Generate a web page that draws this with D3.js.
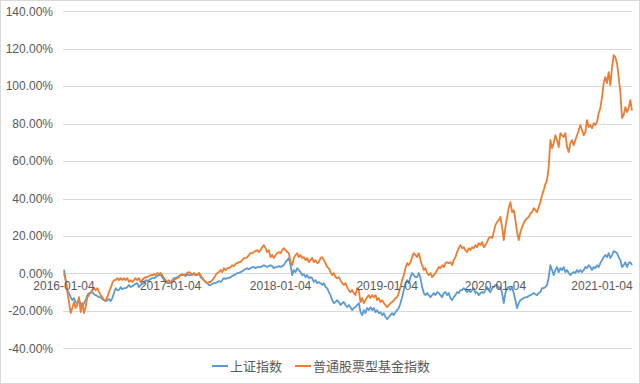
<!DOCTYPE html>
<html>
<head>
<meta charset="utf-8">
<script src="https://cdn.jsdelivr.net/npm/d3@7/dist/d3.min.js"></script>
<style>
  html, body { margin: 0; padding: 0; background: #fff; }
  svg { display: block; }
  text { font-family: "Liberation Sans", Arial, "Noto Sans CJK SC", sans-serif; fill: #595959; }
</style>
</head>
<body>
<script>
// ---- data (cumulative return, %) ----
const seriesNames = ["上证指数", "普通股票型基金指数"];
const seriesColors = ["#5B9BD5", "#ED7D31"];

const shIndex = [
  2.0,-3.6,-8.9,-10.5,-12.7,-14.3,-13.2,-15.3,-15.9,-14.3,-15.9,-18.0,-15.9,-14.3,-11.6,-10.5,-10.5,-10.0,-11.1,-11.6,-12.1,-12.7,-12.7,-13.7,-14.3,-14.8,-14.3,-13.7,-14.8,-13.2,-10.5,-7.9,-8.9,-8.9,-7.3,-8.4,-7.9,-7.9,-7.3,-6.2,-7.3,-6.8,-6.2,-5.7,-5.2,-7.3,-6.2,-5.7,-5.2,-3.6,-4.1,-3.6,-3.0,-2.5,-2.5,-2.0,-1.4,-0.9,
  -0.9,-2.0,-3.6,-4.1,-5.2,-5.2,-4.6,-3.6,-2.5,-2.5,
  -2.0,-1.4,-0.9,-0.9,-0.9,-1.4,-0.4,-0.9,-0.9,-0.4,
  -0.4,-0.9,-0.9,0.2,-2.0,-2.5,-3.6,-4.6,-5.2,-6.2,
  -6.2,-5.7,-5.2,-5.2,-4.6,-4.1,-4.6,-3.6,-2.5,-3.0,
  -2.5,-2.5,-2.0,-1.4,-0.9,-0.4,0.2,0.2,0.7,1.2,
  1.8,2.3,2.8,2.3,2.8,3.4,3.4,2.8,3.4,3.4,
  3.4,3.9,4.4,3.9,3.4,3.9,4.4,3.9,2.8,3.4,
  3.4,3.9,3.4,3.9,4.4,6.0,7.1,8.2,4.4,-0.9,
  1.8,0.7,2.8,1.8,0.7,-0.9,-0.4,-2.0,-0.9,-2.5,
  -2.0,-2.5,-4.6,-3.6,-5.2,-4.6,-5.2,-6.2,-5.2,-7.3,
  -7.9,-10.0,-11.6,-14.3,-15.9,-15.3,-14.3,-15.3,-16.9,-15.9,
  -15.3,-16.9,-18.0,-16.9,-18.0,-19.6,-18.5,-18.0,-16.9,-15.9,
  -20.7,-22.3,-19.6,-21.2,-18.5,-19.6,-18.0,-19.6,-18.5,-20.7,
  -19.6,-21.2,-20.7,-22.3,-21.2,-23.3,-24.4,-23.3,-22.3,-21.2,
  -22.3,-20.7,-19.6,-18.5,-15.9,-12.7,-8.9,-5.2,-3.6,-5.2,
  -2.0,0.2,-0.9,-2.0,-2.0,0.2,-2.5,-7.3,-10.5,-11.6,
  -10.5,-11.6,-12.7,-11.6,-10.5,-11.6,-10.0,-10.5,-11.6,-12.7,
  -10.5,-10.0,-11.6,-10.5,-13.2,-14.3,-12.7,-11.6,-10.0,-10.5,
  -8.9,-8.9,-7.9,-8.9,-10.0,-8.9,-10.0,-8.9,-7.9,-10.5,
  -10.0,-11.6,-10.5,-10.0,-10.5,-8.9,-7.3,-8.9,-10.0,-7.9,
  -7.3,-6.2,-6.2,-7.9,-7.3,-10.5,-15.9,-10.5,-7.9,-7.3,
  -8.9,-7.3,-10.5,-14.3,-18.5,-15.9,-14.3,-13.7,-13.2,-12.7,
  -12.7,-12.1,-11.6,-11.1,-10.5,-11.1,-11.6,-10.5,-10.0,
  -7.9,-7.9,-7.3,-6.2,-2.0,4.4,1.8,-0.9,1.8,3.4,
  0.7,2.8,1.8,3.4,0.7,1.8,0.2,-0.9,0.2,0.7,
  0.2,1.8,0.7,1.8,0.7,1.8,3.4,2.8,4.4,3.4,
  1.8,3.4,2.8,4.4,3.4,5.5,7.1,8.7,9.8,8.7,
  10.8,8.2,9.8,11.9,11.4,10.8,8.7,7.1,3.4,4.4,
  6.0,3.4,5.5,6.0,4.4
];

const fundIndex = [
  0.0,-3.6,-10.0,-15.3,-21.2,-18.5,-15.3,-18.5,-16.9,-12.7,-20.7,-15.9,-21.2,-18.0,-12.7,-11.6,-10.0,-8.9,-7.9,-8.9,-7.9,-10.0,-11.6,-12.7,-14.3,-14.3,-12.7,-10.0,-7.9,-5.2,-3.6,-3.6,-2.5,-3.6,-2.5,-3.6,-2.5,-3.6,-2.5,-4.6,-3.6,-4.6,-3.6,-2.5,-3.6,-2.5,-4.6,-3.6,-2.5,-2.0,-2.0,-1.4,-0.9,-0.9,-0.4,-0.9,0.2,-0.4,
  0.2,-0.9,-2.5,-3.6,-4.6,-3.6,-5.2,-4.6,-3.6,-3.0,
  -2.5,-2.0,-0.9,-0.4,-0.9,-0.4,0.2,0.7,0.2,-0.9,
  0.2,-0.4,-0.9,0.2,-0.9,-2.5,-3.6,-4.6,-5.2,-4.6,
  -4.6,-3.6,-2.5,-0.9,0.2,0.7,1.8,0.7,2.8,1.8,
  2.8,2.8,3.4,4.4,3.9,5.0,5.5,6.0,6.0,7.1,
  8.2,8.2,8.7,9.8,10.8,10.8,11.4,11.9,12.4,11.4,
  12.4,14.0,15.1,13.5,11.4,12.4,8.7,9.8,8.2,9.8,
  10.8,11.4,10.8,12.4,13.5,12.4,11.4,10.8,6.0,4.4,
  8.2,9.8,10.8,8.7,9.8,8.2,8.7,7.1,8.2,6.0,
  7.1,8.2,6.0,7.1,5.5,6.0,8.2,8.7,7.1,5.5,
  3.4,2.8,0.7,-0.9,0.2,-2.0,-2.5,-2.0,-3.6,-5.2,
  -6.2,-5.2,-7.3,-8.9,-10.0,-8.9,-10.5,-11.6,-7.9,-8.9,
  -15.3,-13.2,-15.9,-14.3,-12.7,-11.6,-13.2,-11.6,-12.7,-11.6,
  -14.3,-13.2,-15.3,-14.3,-15.9,-16.9,-18.0,-16.9,-15.9,-15.3,
  -14.3,-13.2,-12.7,-10.5,-7.3,-3.6,-0.9,2.8,5.5,4.4,
  6.0,8.7,10.8,9.8,8.7,10.8,7.1,4.4,1.8,2.8,
  0.2,-0.9,0.2,-2.0,-0.9,0.2,1.8,3.4,2.8,4.4,
  3.4,5.5,6.0,5.5,6.0,4.4,7.1,8.7,11.4,13.5,
  15.1,13.5,14.0,12.4,11.4,13.5,12.4,14.0,13.5,15.1,
  14.0,16.2,15.1,16.7,14.0,15.1,16.7,18.9,19.4,18.9,
  22.1,25.8,27.4,28.5,30.1,24.7,17.8,24.7,30.1,34.9,
  38.1,32.7,33.8,28.5,22.1,17.8,22.1,24.7,26.9,28.5,
  29.5,30.1,32.2,32.7,34.9,33.8,32.7,35.4,38.1,
  41.8,44.5,47.7,49.8,56.8,71.2,66.9,69.6,73.8,71.2,
  67.5,74.9,73.8,72.8,74.9,67.5,64.8,69.6,71.2,68.5,
  71.2,73.8,76.5,79.2,76.5,73.8,75.5,81.9,78.2,79.2,
  77.6,80.3,79.2,80.8,85.7,88.3,94.2,101.7,104.9,101.7,
  107.5,100.6,110.2,116.6,115.5,112.3,104.9,96.9,83.0,84.6,
  88.8,86.2,88.3,92.6,87.0
];

const xTickLabels = ["2016-01-04", "2017-01-04", "2018-01-04", "2019-01-04", "2020-01-04", "2021-01-04"];
const xTickIndex = [0, 64, 130, 194, 259, 323];
const yTicks = [-40, -20, 0, 20, 40, 60, 80, 100, 120, 140];

// ---- drawing ----
const W = 640, H = 384;
const svg = d3.select("body").append("svg").attr("width", W).attr("height", H);

svg.append("rect").attr("x", 0.5).attr("y", 0.5).attr("width", W - 1).attr("height", H - 1)
  .attr("fill", "#fff").attr("stroke", "#d9d9d9");

const n = shIndex.length;
const x = d3.scaleLinear().domain([0, n - 1]).range([64, 632]);
const y = d3.scaleLinear().domain([-40, 140]).range([348.3, 11.3]);

// gridlines
svg.append("g").selectAll("line").data(yTicks).join("line")
  .attr("x1", 63).attr("x2", 632)
  .attr("y1", d => Math.round(y(d)) + 0.5).attr("y2", d => Math.round(y(d)) + 0.5)
  .attr("stroke", "#d9d9d9").attr("stroke-width", 1);

// y axis labels
svg.append("g").selectAll("text").data(yTicks).join("text")
  .attr("x", 53).attr("y", d => y(d)).attr("dy", "0.35em")
  .attr("text-anchor", "end").attr("font-size", 12)
  .text(d => d.toFixed(2) + "%");

// lines
const line = d3.line().x((d, i) => x(i)).y(d => y(d)).curve(d3.curveLinear);
[shIndex, fundIndex].forEach((s, k) => {
  svg.append("path").datum(s).attr("d", line)
    .attr("fill", "none").attr("stroke", seriesColors[k])
    .attr("stroke-width", 1.8).attr("stroke-linejoin", "round");
});

// x labels (at the 0% axis)
svg.append("g").selectAll("text").data(xTickIndex).join("text")
  .attr("x", d => x(d)).attr("y", y(0) + 17)
  .attr("text-anchor", "middle").attr("font-size", 12)
  .text((d, i) => xTickLabels[i]);

// legend
const legend = svg.append("g");
const legendX = [212, 295];
seriesNames.forEach((name, k) => {
  const g = legend.append("g").attr("transform", `translate(${legendX[k]},366)`);
  g.append("line").attr("x1", 0).attr("x2", 16).attr("y1", 0).attr("y2", 0)
    .attr("stroke", seriesColors[k]).attr("stroke-width", 2);
  g.append("text").attr("x", 18).attr("y", 0).attr("dy", "0.35em")
    .attr("font-size", 13).text(name);
});
</script>
</body>
</html>
